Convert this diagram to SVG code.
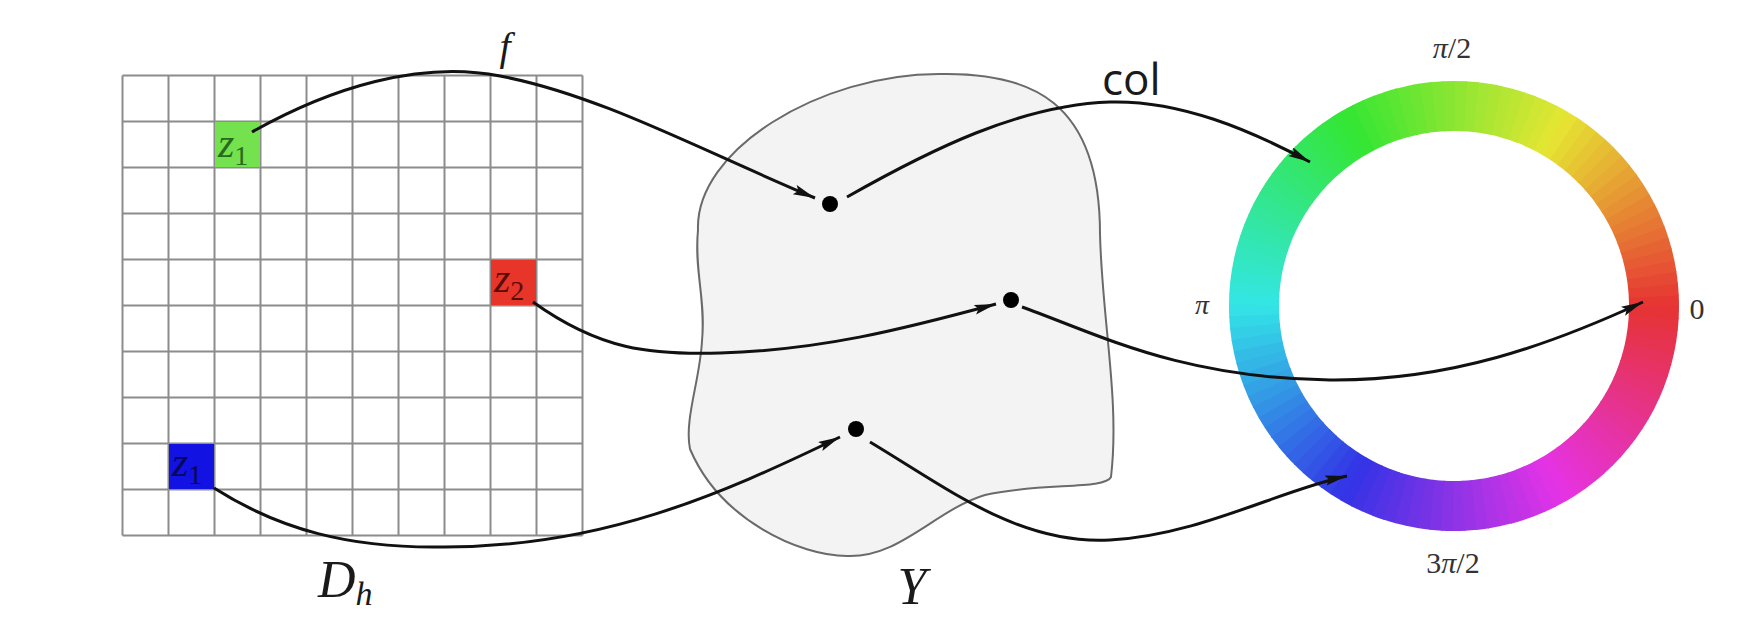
<svg xmlns="http://www.w3.org/2000/svg" width="1758" height="632" viewBox="0 0 1758 632">
<style>
.grid{fill:none;stroke:#8c8c8c;stroke-width:2}
.conn{fill:none;stroke:#111;stroke-width:3;marker-end:url(#ah)}
.dot{fill:#000}
.ring circle{fill:none;stroke-width:50;stroke-dasharray:11.6 1300}
.m{font-family:"Liberation Serif",serif;font-style:italic;fill:#1a1a1a}
.n{font-family:"Liberation Serif",serif;font-style:normal}
.lab{font-family:"Liberation Serif",serif;fill:#333}
.col{font-family:"Open Sans","DejaVu Sans",sans-serif;fill:#1a1a1a}
</style>
<defs>
<marker id="ah" markerWidth="24" markerHeight="12" refX="22" refY="5" orient="auto" markerUnits="userSpaceOnUse">
<path d="M0,0 L22,5 L0,10 L4,5 Z" fill="#111"/>
</marker>
</defs>
<rect width="1758" height="632" fill="#fff"/>

<g id="domain">
<path class="grid" d="M122.5 75.5V535.5M168.5 75.5V535.5M214.5 75.5V535.5M260.5 75.5V535.5M306.5 75.5V535.5M352.5 75.5V535.5M398.5 75.5V535.5M444.5 75.5V535.5M490.5 75.5V535.5M536.5 75.5V535.5M582.5 75.5V535.5M122.5 75.5H582.5M122.5 121.5H582.5M122.5 167.5H582.5M122.5 213.5H582.5M122.5 259.5H582.5M122.5 305.5H582.5M122.5 351.5H582.5M122.5 397.5H582.5M122.5 443.5H582.5M122.5 489.5H582.5M122.5 535.5H582.5"/>
<text class="m" x="318" y="597" font-size="52">D<tspan font-size="34" dy="8">h</tspan></text>
</g>

<g id="cell-z1">
<rect x="215" y="122" width="45" height="45" fill="#74e24e"/>
<text class="m" x="218" y="157" font-size="42" style="fill:#2a6a1c">z<tspan class="n" font-size="28" dy="8">1</tspan></text>
</g>
<g id="cell-z2">
<rect x="491" y="260" width="45" height="45" fill="#e8352a"/>
<text class="m" x="494" y="292" font-size="42" style="fill:#5a0c05">z<tspan class="n" font-size="28" dy="8">2</tspan></text>
</g>
<g id="cell-z3">
<rect x="169" y="444" width="45" height="45" fill="#1212e2"/>
<text class="m" x="172" y="476" font-size="42" style="fill:#07075e">z<tspan class="n" font-size="28" dy="8">1</tspan></text>
</g>

<g id="space-Y">
<path d="M698 230 C695 150 820 74 939 74 C1030 72 1100 100 1100 234 C1102 320 1120 400 1111 477 C1105 490 1040 482 985 495 C935 510 900 558 847 556 C800 556 720 520 690 449 C684 420 700 380 702 341 C706 300 694 270 698 230 Z" fill="#f3f3f3" stroke="#6a6a6a" stroke-width="2"/>
<text class="m" x="912" y="604" font-size="52" text-anchor="middle">Y</text>
</g>

<g id="point-1"><circle class="dot" cx="830" cy="204" r="8"/></g>
<g id="point-2"><circle class="dot" cx="1011" cy="300" r="8"/></g>
<g id="point-3"><circle class="dot" cx="856" cy="429" r="8"/></g>

<g id="colour-wheel">
<g class="ring" transform="translate(1454,306)">
<circle r="200" transform="rotate(-3)" stroke="hsl(1.5,78%,55%)"/>
<circle r="200" transform="rotate(-6)" stroke="hsl(4.5,78%,55%)"/>
<circle r="200" transform="rotate(-9)" stroke="hsl(7.5,78%,55%)"/>
<circle r="200" transform="rotate(-12)" stroke="hsl(10.5,78%,55%)"/>
<circle r="200" transform="rotate(-15)" stroke="hsl(13.5,78%,55%)"/>
<circle r="200" transform="rotate(-18)" stroke="hsl(16.5,78%,55%)"/>
<circle r="200" transform="rotate(-21)" stroke="hsl(19.5,78%,55%)"/>
<circle r="200" transform="rotate(-24)" stroke="hsl(22.5,78%,55%)"/>
<circle r="200" transform="rotate(-27)" stroke="hsl(25.5,78%,55%)"/>
<circle r="200" transform="rotate(-30)" stroke="hsl(28.5,78%,55%)"/>
<circle r="200" transform="rotate(-33)" stroke="hsl(31.5,78%,55%)"/>
<circle r="200" transform="rotate(-36)" stroke="hsl(34.5,78%,55%)"/>
<circle r="200" transform="rotate(-39)" stroke="hsl(37.5,78%,55%)"/>
<circle r="200" transform="rotate(-42)" stroke="hsl(40.5,78%,55%)"/>
<circle r="200" transform="rotate(-45)" stroke="hsl(43.5,78%,55%)"/>
<circle r="200" transform="rotate(-48)" stroke="hsl(46.5,78%,55%)"/>
<circle r="200" transform="rotate(-51)" stroke="hsl(49.5,78%,55%)"/>
<circle r="200" transform="rotate(-54)" stroke="hsl(52.5,78%,55%)"/>
<circle r="200" transform="rotate(-57)" stroke="hsl(55.5,78%,55%)"/>
<circle r="200" transform="rotate(-60)" stroke="hsl(58.5,78%,55%)"/>
<circle r="200" transform="rotate(-63)" stroke="hsl(61.5,78%,55%)"/>
<circle r="200" transform="rotate(-66)" stroke="hsl(64.5,78%,55%)"/>
<circle r="200" transform="rotate(-69)" stroke="hsl(67.5,78%,55%)"/>
<circle r="200" transform="rotate(-72)" stroke="hsl(70.5,78%,55%)"/>
<circle r="200" transform="rotate(-75)" stroke="hsl(73.5,78%,55%)"/>
<circle r="200" transform="rotate(-78)" stroke="hsl(76.5,78%,55%)"/>
<circle r="200" transform="rotate(-81)" stroke="hsl(79.5,78%,55%)"/>
<circle r="200" transform="rotate(-84)" stroke="hsl(82.5,78%,55%)"/>
<circle r="200" transform="rotate(-87)" stroke="hsl(85.5,78%,55%)"/>
<circle r="200" transform="rotate(-90)" stroke="hsl(88.5,78%,55%)"/>
<circle r="200" transform="rotate(-93)" stroke="hsl(91.5,78%,55%)"/>
<circle r="200" transform="rotate(-96)" stroke="hsl(94.5,78%,55%)"/>
<circle r="200" transform="rotate(-99)" stroke="hsl(97.5,78%,55%)"/>
<circle r="200" transform="rotate(-102)" stroke="hsl(100.5,78%,55%)"/>
<circle r="200" transform="rotate(-105)" stroke="hsl(103.5,78%,55%)"/>
<circle r="200" transform="rotate(-108)" stroke="hsl(106.5,78%,55%)"/>
<circle r="200" transform="rotate(-111)" stroke="hsl(109.5,78%,55%)"/>
<circle r="200" transform="rotate(-114)" stroke="hsl(112.5,78%,55%)"/>
<circle r="200" transform="rotate(-117)" stroke="hsl(115.5,78%,55%)"/>
<circle r="200" transform="rotate(-120)" stroke="hsl(118.5,78%,55%)"/>
<circle r="200" transform="rotate(-123)" stroke="hsl(121.5,78%,55%)"/>
<circle r="200" transform="rotate(-126)" stroke="hsl(124.5,78%,55%)"/>
<circle r="200" transform="rotate(-129)" stroke="hsl(127.5,78%,55%)"/>
<circle r="200" transform="rotate(-132)" stroke="hsl(130.5,78%,55%)"/>
<circle r="200" transform="rotate(-135)" stroke="hsl(133.5,78%,55%)"/>
<circle r="200" transform="rotate(-138)" stroke="hsl(136.5,78%,55%)"/>
<circle r="200" transform="rotate(-141)" stroke="hsl(139.5,78%,55%)"/>
<circle r="200" transform="rotate(-144)" stroke="hsl(142.5,78%,55%)"/>
<circle r="200" transform="rotate(-147)" stroke="hsl(145.5,78%,55%)"/>
<circle r="200" transform="rotate(-150)" stroke="hsl(148.5,78%,55%)"/>
<circle r="200" transform="rotate(-153)" stroke="hsl(151.5,78%,55%)"/>
<circle r="200" transform="rotate(-156)" stroke="hsl(154.5,78%,55%)"/>
<circle r="200" transform="rotate(-159)" stroke="hsl(157.5,78%,55%)"/>
<circle r="200" transform="rotate(-162)" stroke="hsl(160.5,78%,55%)"/>
<circle r="200" transform="rotate(-165)" stroke="hsl(163.5,78%,55%)"/>
<circle r="200" transform="rotate(-168)" stroke="hsl(166.5,78%,55%)"/>
<circle r="200" transform="rotate(-171)" stroke="hsl(169.5,78%,55%)"/>
<circle r="200" transform="rotate(-174)" stroke="hsl(172.5,78%,55%)"/>
<circle r="200" transform="rotate(-177)" stroke="hsl(175.5,78%,55%)"/>
<circle r="200" transform="rotate(-180)" stroke="hsl(178.5,78%,55%)"/>
<circle r="200" transform="rotate(-183)" stroke="hsl(181.5,78%,55%)"/>
<circle r="200" transform="rotate(-186)" stroke="hsl(184.5,78%,55%)"/>
<circle r="200" transform="rotate(-189)" stroke="hsl(187.5,78%,55%)"/>
<circle r="200" transform="rotate(-192)" stroke="hsl(190.5,78%,55%)"/>
<circle r="200" transform="rotate(-195)" stroke="hsl(193.5,78%,55%)"/>
<circle r="200" transform="rotate(-198)" stroke="hsl(196.5,78%,55%)"/>
<circle r="200" transform="rotate(-201)" stroke="hsl(199.5,78%,55%)"/>
<circle r="200" transform="rotate(-204)" stroke="hsl(202.5,78%,55%)"/>
<circle r="200" transform="rotate(-207)" stroke="hsl(205.5,78%,55%)"/>
<circle r="200" transform="rotate(-210)" stroke="hsl(208.5,78%,55%)"/>
<circle r="200" transform="rotate(-213)" stroke="hsl(211.5,78%,55%)"/>
<circle r="200" transform="rotate(-216)" stroke="hsl(214.5,78%,55%)"/>
<circle r="200" transform="rotate(-219)" stroke="hsl(217.5,78%,55%)"/>
<circle r="200" transform="rotate(-222)" stroke="hsl(220.5,78%,55%)"/>
<circle r="200" transform="rotate(-225)" stroke="hsl(223.5,78%,55%)"/>
<circle r="200" transform="rotate(-228)" stroke="hsl(226.5,78%,55%)"/>
<circle r="200" transform="rotate(-231)" stroke="hsl(229.5,78%,55%)"/>
<circle r="200" transform="rotate(-234)" stroke="hsl(232.5,78%,55%)"/>
<circle r="200" transform="rotate(-237)" stroke="hsl(235.5,78%,55%)"/>
<circle r="200" transform="rotate(-240)" stroke="hsl(238.5,78%,55%)"/>
<circle r="200" transform="rotate(-243)" stroke="hsl(241.5,78%,55%)"/>
<circle r="200" transform="rotate(-246)" stroke="hsl(244.5,78%,55%)"/>
<circle r="200" transform="rotate(-249)" stroke="hsl(247.5,78%,55%)"/>
<circle r="200" transform="rotate(-252)" stroke="hsl(250.5,78%,55%)"/>
<circle r="200" transform="rotate(-255)" stroke="hsl(253.5,78%,55%)"/>
<circle r="200" transform="rotate(-258)" stroke="hsl(256.5,78%,55%)"/>
<circle r="200" transform="rotate(-261)" stroke="hsl(259.5,78%,55%)"/>
<circle r="200" transform="rotate(-264)" stroke="hsl(262.5,78%,55%)"/>
<circle r="200" transform="rotate(-267)" stroke="hsl(265.5,78%,55%)"/>
<circle r="200" transform="rotate(-270)" stroke="hsl(268.5,78%,55%)"/>
<circle r="200" transform="rotate(-273)" stroke="hsl(271.5,78%,55%)"/>
<circle r="200" transform="rotate(-276)" stroke="hsl(274.5,78%,55%)"/>
<circle r="200" transform="rotate(-279)" stroke="hsl(277.5,78%,55%)"/>
<circle r="200" transform="rotate(-282)" stroke="hsl(280.5,78%,55%)"/>
<circle r="200" transform="rotate(-285)" stroke="hsl(283.5,78%,55%)"/>
<circle r="200" transform="rotate(-288)" stroke="hsl(286.5,78%,55%)"/>
<circle r="200" transform="rotate(-291)" stroke="hsl(289.5,78%,55%)"/>
<circle r="200" transform="rotate(-294)" stroke="hsl(292.5,78%,55%)"/>
<circle r="200" transform="rotate(-297)" stroke="hsl(295.5,78%,55%)"/>
<circle r="200" transform="rotate(-300)" stroke="hsl(298.5,78%,55%)"/>
<circle r="200" transform="rotate(-303)" stroke="hsl(301.5,78%,55%)"/>
<circle r="200" transform="rotate(-306)" stroke="hsl(304.5,78%,55%)"/>
<circle r="200" transform="rotate(-309)" stroke="hsl(307.5,78%,55%)"/>
<circle r="200" transform="rotate(-312)" stroke="hsl(310.5,78%,55%)"/>
<circle r="200" transform="rotate(-315)" stroke="hsl(313.5,78%,55%)"/>
<circle r="200" transform="rotate(-318)" stroke="hsl(316.5,78%,55%)"/>
<circle r="200" transform="rotate(-321)" stroke="hsl(319.5,78%,55%)"/>
<circle r="200" transform="rotate(-324)" stroke="hsl(322.5,78%,55%)"/>
<circle r="200" transform="rotate(-327)" stroke="hsl(325.5,78%,55%)"/>
<circle r="200" transform="rotate(-330)" stroke="hsl(328.5,78%,55%)"/>
<circle r="200" transform="rotate(-333)" stroke="hsl(331.5,78%,55%)"/>
<circle r="200" transform="rotate(-336)" stroke="hsl(334.5,78%,55%)"/>
<circle r="200" transform="rotate(-339)" stroke="hsl(337.5,78%,55%)"/>
<circle r="200" transform="rotate(-342)" stroke="hsl(340.5,78%,55%)"/>
<circle r="200" transform="rotate(-345)" stroke="hsl(343.5,78%,55%)"/>
<circle r="200" transform="rotate(-348)" stroke="hsl(346.5,78%,55%)"/>
<circle r="200" transform="rotate(-351)" stroke="hsl(349.5,78%,55%)"/>
<circle r="200" transform="rotate(-354)" stroke="hsl(352.5,78%,55%)"/>
<circle r="200" transform="rotate(-357)" stroke="hsl(355.5,78%,55%)"/>
<circle r="200" transform="rotate(-360)" stroke="hsl(358.5,78%,55%)"/>
</g>
<text class="lab" x="1452" y="58" font-size="30" text-anchor="middle"><tspan font-style="italic">π</tspan>/2</text>
<text class="lab" x="1202" y="314" font-size="28" text-anchor="middle" font-style="italic">π</text>
<text class="lab" x="1697" y="319" font-size="30" text-anchor="middle">0</text>
<text class="lab" x="1453" y="573" font-size="30" text-anchor="middle">3<tspan font-style="italic">π</tspan>/2</text>
</g>

<g id="connectors">
<path class="conn" d="M252 132 C330 88 420 60 500 76 C600 95 700 150 815 198"/>
<path class="conn" d="M847 197 C930 150 1020 105 1110 102 C1180 100 1250 130 1310 162"/>
<path class="conn" d="M533 302 C600 350 650 355 720 353 C820 350 900 330 996 304"/>
<path class="conn" d="M1022 307 C1100 335 1180 378 1330 380 C1450 381 1550 345 1643 302"/>
<path class="conn" d="M214 488 C280 530 350 548 440 547 C600 548 720 495 840 437"/>
<path class="conn" d="M870 442 C950 490 1020 545 1110 540 C1200 535 1280 490 1347 476"/>
<text class="m" x="505" y="60" font-size="40" text-anchor="middle">f</text>
<text class="col" x="1102" y="95" font-size="44">col</text>
</g>
</svg>
